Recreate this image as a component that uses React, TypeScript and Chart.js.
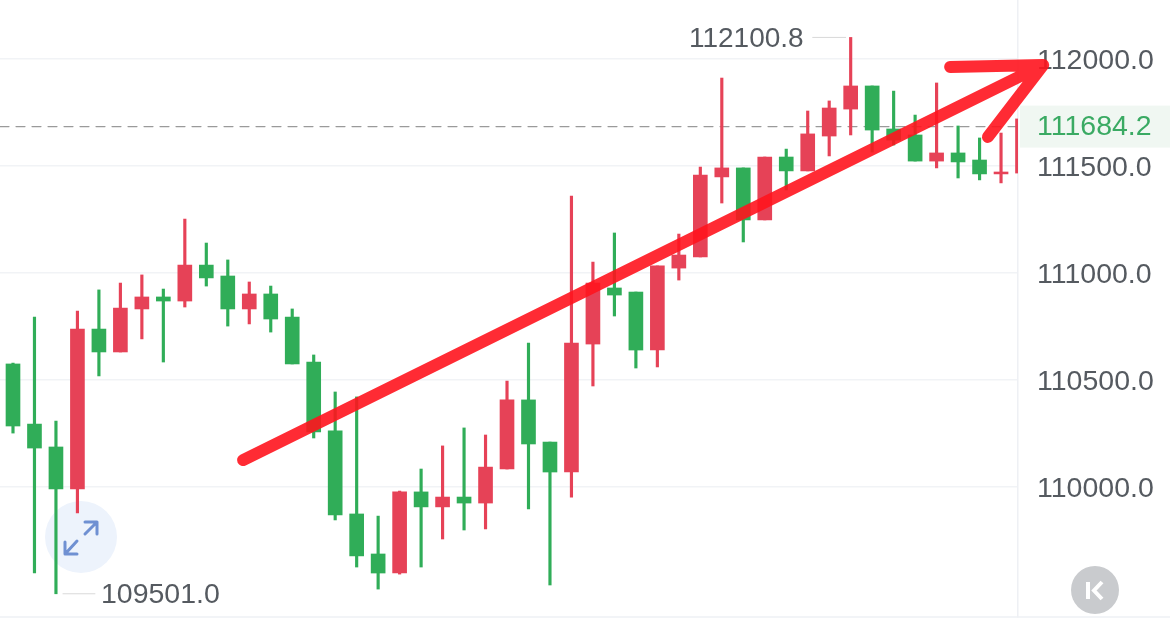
import React, { useEffect, useRef } from "react";
import { Chart, registerables } from "chart.js";

Chart.register(...registerables);

const opens = [110575,110294,110187,109991,110738,110631,110832,110888,110869,111037,110986,110832,110902,110794,110584,110262,109874,109687,109598,109977,109907,109953,109925,110084,110407,110210,110070,110668,110930,110911,110640,111023,111075,111449,111491,111248,111542,111477,111640,111766,111874,111673,111645,111523,111561,111528,111463,111467];
const highs = [110579,110794,110308,110822,110921,110953,110991,110925,111252,111140,111061,110958,110939,110832,110617,110444,110421,109864,109981,110084,110192,110276,110243,110495,110673,110210,111360,111051,111187,110911,111033,111182,111495,111911,111491,111542,111579,111757,111804,112100.8,111874,111850,111738,111888,111687,111631,111654,111720];
const lows = [110252,109598,109501,109879,110519,110631,110692,110584,110841,110939,110752,110762,110724,110575,110229,109846,109626,109523,109593,109626,109757,109799,109804,110084,109897,109542,109953,110472,110799,110556,110561,110967,111075,111327,111145,111248,111388,111477,111547,111645,111565,111598,111523,111491,111444,111435,111421,111467];
const closes = [110285,110182,109991,110738,110631,110836,110888,110869,111037,110977,110832,110902,110785,110575,110257,109869,109678,109598,109977,109907,109953,109925,110093,110407,110201,110070,110673,110953,110897,110640,111033,111084,111458,111491,111248,111542,111477,111650,111771,111874,111668,111621,111523,111561,111519,111463,111472,111720];
const yTicks = [110000, 110500, 111000, 111500, 112000];
const lastPrice = 111684.2;
const arrowX = [10.71, 47.96, 43.63, 47.96, 45.39];
const arrowY = [110126, 111972, 111963, 111972, 111636];

const GREEN = "#30ad58";
const RED = "#e64257";
const fmt = (v: number) => v.toFixed(1);
const FONT = '28.5px "Liberation Sans", Arial, sans-serif';

const overlay = {
  id: "overlay",
  beforeDraw(chart: any) {
    const scale = chart.scales.y;
    if (scale.__shifted) return;
    scale.getLabelItems().forEach((it: any) => { it.options.translation[1] += 2; });
    scale.__shifted = true;
  },
  beforeDatasetsDraw(chart: any) {
    const { ctx, chartArea: a, scales } = chart;
    const y = scales.y;
    const ly = y.getPixelForValue(lastPrice);
    ctx.save();
    // expand button
    ctx.fillStyle = "#edf3fc";
    ctx.beginPath();
    ctx.arc(81, 537, 36, 0, Math.PI * 2);
    ctx.fill();
    ctx.strokeStyle = "#6f90d2";
    ctx.lineWidth = 3;
    ctx.lineCap = "round";
    ctx.lineJoin = "round";
    ctx.beginPath();
    ctx.moveTo(85, 534); ctx.lineTo(97, 522);
    ctx.moveTo(85, 522); ctx.lineTo(97, 522); ctx.lineTo(97, 534);
    ctx.moveTo(77, 541); ctx.lineTo(66, 553);
    ctx.moveTo(65, 542); ctx.lineTo(65, 554); ctx.lineTo(77, 554);
    ctx.stroke();
    // last price band and dashed line
    ctx.fillStyle = "#f0f7f2";
    ctx.fillRect(a.right + 2, ly - 21, 1170 - a.right, 42);
    ctx.strokeStyle = "#9a9a9a";
    ctx.lineWidth = 1.2;
    ctx.setLineDash([9, 7]);
    ctx.beginPath();
    ctx.moveTo(a.left, ly); ctx.lineTo(a.right, ly);
    ctx.stroke();
    ctx.setLineDash([]);
    // bottom edge
    ctx.strokeStyle = "#eef0f4";
    ctx.lineWidth = 1.5;
    ctx.beginPath();
    ctx.moveTo(0, a.bottom); ctx.lineTo(1170, a.bottom);
    ctx.stroke();
    // text
    ctx.font = FONT;
    ctx.textBaseline = "middle";
    ctx.fillStyle = "#3aaa63";
    ctx.textAlign = "left";
    ctx.fillText(fmt(lastPrice), 1037, ly + 1);
    // extremes
    const x = scales.x;
    const hiI = highs.indexOf(Math.max(...highs));
    const loI = lows.indexOf(Math.min(...lows));
    const hx = x.getPixelForValue(hiI), hy = y.getPixelForValue(highs[hiI]);
    const lx = x.getPixelForValue(loI), lyy = y.getPixelForValue(lows[loI]);
    ctx.strokeStyle = "#d9d9d9";
    ctx.lineWidth = 1;
    ctx.beginPath();
    ctx.moveTo(hx - 38, hy); ctx.lineTo(hx - 5, hy);
    ctx.moveTo(lx + 7, lyy); ctx.lineTo(lx + 39, lyy);
    ctx.stroke();
    ctx.fillStyle = "#555a60";
    ctx.textAlign = "right";
    ctx.font = '28px "Liberation Sans", Arial, sans-serif';
    ctx.fillText(fmt(highs[hiI]), hx - 47, hy + 2);
    ctx.textAlign = "left";
    ctx.font = FONT;
    ctx.fillText(fmt(lows[loI]), lx + 45, lyy + 1);
    // collapse button
    ctx.fillStyle = "#c9cbce";
    ctx.beginPath();
    ctx.arc(1095, 590, 24, 0, Math.PI * 2);
    ctx.fill();
    ctx.strokeStyle = "#ffffff";
    ctx.lineWidth = 4;
    ctx.lineCap = "butt";
    ctx.lineJoin = "miter";
    ctx.beginPath();
    ctx.moveTo(1088, 582); ctx.lineTo(1088, 599);
    ctx.moveTo(1102, 582); ctx.lineTo(1094, 590.5); ctx.lineTo(1102, 599);
    ctx.stroke();
    ctx.restore();
  },
};

export default function App() {
  const ref = useRef<HTMLCanvasElement | null>(null);
  useEffect(() => {
    if (!ref.current) return;
    const colors = opens.map((o, i) => (closes[i] >= o ? RED : GREEN));
    const chart = new Chart(ref.current, {
      type: "bar",
      data: {
        datasets: [
          {
            type: "line",
            label: "arrow",
            data: arrowX.map((x, i) => ({ x, y: arrowY[i] })),
            borderColor: "rgba(255,20,30,0.9)",
            borderWidth: 12,
            borderCapStyle: "round",
            borderJoinStyle: "round",
            pointRadius: 0,
            tension: 0,
            clip: false,
            order: 0,
          },
          {
            label: "body",
            data: opens.map((o, i) => ({ x: i, y: [o, closes[i]] })),
            backgroundColor: colors,
            barThickness: 14,
            grouped: false,
            order: 1,
          },
          {
            label: "wick",
            data: lows.map((l, i) => ({ x: i, y: [l, highs[i]] })),
            backgroundColor: colors,
            barThickness: 2.5,
            grouped: false,
            order: 2,
          },
        ] as any,
      },
      plugins: [overlay as any],
      options: {
        responsive: false,
        animation: false,
        layout: { padding: { bottom: 7 } },
        plugins: { legend: { display: false }, tooltip: { enabled: false } },
        scales: {
          x: {
            type: "linear",
            display: false,
            min: -0.605,
            max: 46.79,
            offset: false,
          },
          y: {
            type: "linear",
            position: "right",
            min: 109392.5,
            max: 112275.7,
            afterFit: (s: any) => { s.width = 152; s.paddingTop = 0; s.paddingBottom = 0; },
            afterBuildTicks: (s: any) => { s.ticks = yTicks.map((value) => ({ value })); },
            grid: { color: "#f1f3f6", lineWidth: 1.5, drawTicks: false },
            border: { display: true, color: "#eef0f4", width: 1.5 },
            ticks: {
              padding: 19,
              color: "#555a60",
              font: { family: '"Liberation Sans", Arial, sans-serif', size: 28.5 },
              callback: (v: any) => fmt(Number(v)),
            },
          },
        },
      } as any,
    });
    return () => chart.destroy();
  }, []);
  return (
    <div style={{ position: "fixed", left: 0, top: 0, width: 1170, height: 624, background: "#fff" }}>
      <canvas ref={ref} width={1170} height={624} style={{ display: "block" }} />
    </div>
  );
}
